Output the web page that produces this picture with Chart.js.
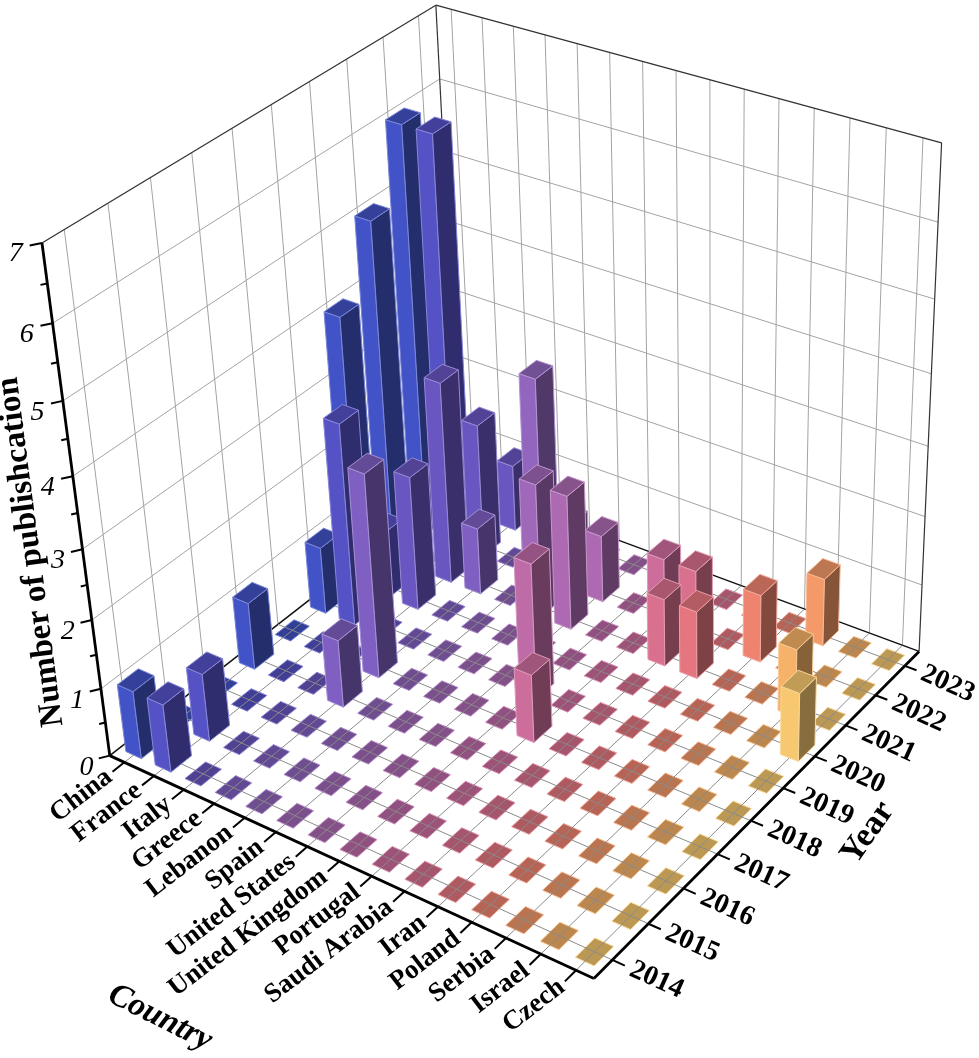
<!DOCTYPE html>
<html>
<head>
<meta charset="utf-8">
<script src="https://cdn.jsdelivr.net/npm/chart.js@4.4.0/dist/chart.umd.min.js"></script>
<style>
html,body{margin:0;padding:0;background:#ffffff;}
#wrap{width:979px;height:1058px;}
canvas{display:block;}
</style>
</head>
<body>
<div id="wrap"><canvas id="c" width="979" height="1058"></canvas></div>
<script>
// ---------------- data ----------------
const countries = ['China','France','Italy','Greece','Lebanon','Spain','United States','United Kingdom','Portugal','Saudi Arabia','Iran','Poland','Serbia','Israel','Czech'];
const years = ['2014','2015','2016','2017','2018','2019','2020','2021','2022','2023'];
const zTickLabels = ['0','1','2','3','4','5','6','7'];

// publications per year, 2014 .. 2023
const china         = [1,0,0,1,0,1,4,5,6,0];
const france        = [1,1,0,0,0,3,1,0,6,0];
const italy         = [0,0,0,0,0,0,2,3,2,1];
const greece        = [0,0,0,1,3,0,0,1,0,0];
const lebanon       = [0,0,0,0,0,0,0,0,3,0];
const spain         = [0,0,0,0,0,0,0,2,1,0];
const unitedStates  = [0,0,0,0,0,0,0,2,1,0];
const unitedKingdom = [0,0,0,0,0,2,0,0,0,0];
const portugal      = [0,0,0,0,1,0,0,0,1,0];
const saudiArabia   = [0,0,0,0,0,0,0,1,1,0];
const iran          = [0,0,0,0,0,0,0,1,0,0];
const poland        = [0,0,0,0,0,0,0,0,1,0];
const serbia        = [0,0,0,0,0,0,0,0,0,1];
const israel        = [0,0,0,0,0,0,0,1,0,0];
const czech         = [0,0,0,0,0,0,1,0,0,0];

// ---------------- styles ----------------
const countryColors = ['#4153c6','#5552c6','#6a56c0','#7f60c2','#9266be','#a068b8','#ad6ab2','#bf6ba8',
                       '#cd6d9c','#d9708e','#e5767f','#ee8470','#f39a68','#f6b268','#f7c870'];

const values = [china,france,italy,greece,lebanon,spain,unitedStates,unitedKingdom,portugal,saudiArabia,iran,poland,serbia,israel,czech];

// camera calibration of the 3D frame (box corners / axis ticks -> picture plane)
const frameCalib = [
  [[-0.5,-0.5,0],[110,757]],[[-0.5,-0.5,2],[95,623]],[[-0.5,-0.5,4],[72,477]],[[-0.5,-0.5,6],[52,322]],[[-0.5,-0.5,7],[42,242]],
  [[14.5,-0.5,0],[593,978]],[[14.5,9.5,0],[918,653]],[[14.5,9.5,4],[930,375]],[[14.5,9.5,7],[941,143]],
  [[-0.5,9.5,7],[436,4]],[[-0.5,9.5,5],[445,152]],
  [[0,0,0],[143,746]],[[2,0,0],[203,772]],[[14,0,0],[595,953]],[[14,9,0],[893,658]],[[3,5,0],[415,638]],[[3,8,0],[510,557]],[[14,6,0],[797,748]]
];
const BAR = 0.53;

function solveLinear(A,b){
  const n=b.length; const M=A.map((r,i)=>[...r,b[i]]);
  for(let c=0;c<n;c++){
    let p=c; for(let r=c+1;r<n;r++) if(Math.abs(M[r][c])>Math.abs(M[p][c])) p=r;
    const t=M[c]; M[c]=M[p]; M[p]=t;
    for(let r=0;r<n;r++){ if(r===c) continue; const f=M[r][c]/M[c][c]; for(let k=c;k<=n;k++) M[r][k]-=f*M[c][k]; }
  }
  return M.map((r,i)=>r[n]/r[i]);
}
function fitCamera(pts){
  const N=Array.from({length:11},()=>Array(11).fill(0)); const B=Array(11).fill(0);
  for(const [[X,Y,Z],[u,v]] of pts){
    const r1=[X,Y,Z,1,0,0,0,0,-u*X,-u*Y,-u*Z], r2=[0,0,0,0,X,Y,Z,1,-v*X,-v*Y,-v*Z];
    for(const [r,t] of [[r1,u],[r2,v]]){ for(let i=0;i<11;i++){ B[i]+=r[i]*t; for(let j=0;j<11;j++) N[i][j]+=r[i]*r[j]; } }
  }
  return solveLinear(N,B);
}
const Pm = fitCamera(frameCalib);
function project(X,Y,Z){
  const w=Pm[8]*X+Pm[9]*Y+Pm[10]*Z+1;
  return [(Pm[0]*X+Pm[1]*Y+Pm[2]*Z+Pm[3])/w,(Pm[4]*X+Pm[5]*Y+Pm[6]*Z+Pm[7])/w];
}
const camC = solveLinear([[Pm[0],Pm[1],Pm[2]],[Pm[4],Pm[5],Pm[6]],[Pm[8],Pm[9],Pm[10]]],[-Pm[3],-Pm[7],-1]);

function hexRgb(h){ return [parseInt(h.slice(1,3),16),parseInt(h.slice(3,5),16),parseInt(h.slice(5,7),16)]; }
function shade(h,f){ const c=hexRgb(h).map(v=>Math.round(v*f)); return `rgb(${c[0]},${c[1]},${c[2]})`; }
function tint(h,f){ const c=hexRgb(h).map(v=>Math.round(v+(255-v)*f)); return `rgb(${c[0]},${c[1]},${c[2]})`; }

const serif = '"Liberation Serif","Times New Roman",serif';

const bar3d = {
  id:'bar3d',
  afterDraw(chart){
    const ctx=chart.ctx, sx=chart.scales.x, sy=chart.scales.y;
    const P=(X,Y,Z)=>{ const [u,v]=project(X,Y,Z); return [sx.getPixelForValue(u), sy.getPixelForValue(v)]; };
    const line=(a,b,col,w)=>{ ctx.beginPath(); ctx.moveTo(a[0],a[1]); ctx.lineTo(b[0],b[1]); ctx.strokeStyle=col; ctx.lineWidth=w; ctx.stroke(); };
    const poly=(pts,fill,stroke)=>{ ctx.beginPath(); pts.forEach((p,i)=>i?ctx.lineTo(p[0],p[1]):ctx.moveTo(p[0],p[1])); ctx.closePath(); if(fill){ctx.fillStyle=fill;ctx.fill();} if(stroke){ctx.strokeStyle=stroke;ctx.lineWidth=1;ctx.stroke();} };
    const area=pts=>{ let s=0; for(let i=0;i<pts.length;i++){ const a=pts[i],b=pts[(i+1)%pts.length]; s+=a[0]*b[1]-b[0]*a[1]; } return s; };
    const nC=countries.length, nY=years.length, zMax=zTickLabels.length-1;
    const x0=-0.5, x1=nC-0.5, y0=-0.5, y1=nY-0.5;
    ctx.save();
    ctx.lineCap='butt';
    // wall grids
    const wallGrid='#a3a3a3';
    for(let k=1;k<zMax;k++){ line(P(x0,y0,k),P(x0,y1,k),wallGrid,1); line(P(x0,y1,k),P(x1,y1,k),wallGrid,1); }
    for(let j=0;j<nY;j++) line(P(x0,j,0),P(x0,j,zMax),wallGrid,1);
    for(let i=0;i<nC;i++) line(P(i,y1,0),P(i,y1,zMax),wallGrid,1);
    // frame
    line(P(x0,y0,zMax),P(x0,y1,zMax),'#333',1.3);
    line(P(x0,y1,zMax),P(x1,y1,zMax),'#333',1.3);
    line(P(x0,y1,0),P(x0,y1,zMax),'#333',1.2);
    line(P(x1,y1,0),P(x1,y1,zMax),'#333',1.2);
    line(P(x0,y0,0),P(x0,y1,0),'#111',1.5);
    line(P(x0,y1,0),P(x1,y1,0),'#111',1.5);
    // cells
    const cells=[];
    for(let i=0;i<nC;i++) for(let j=0;j<nY;j++) cells.push({i,j,v:values[i][j],d:(i-camC[0])**2+(j-camC[1])**2});
    const h=BAR/2;
    // zero cells (flat squares)
    cells.filter(c=>c.v===0).forEach(c=>{
      const col=countryColors[c.i];
      poly([P(c.i-h,c.j-h,0),P(c.i+h,c.j-h,0),P(c.i+h,c.j+h,0),P(c.i-h,c.j+h,0)],shade(col,0.76),tint(col,0.25));
    });
    // floor grid
    const floorGrid='#8a8a8a';
    for(let i=0;i<nC;i++) line(P(i,y0,0),P(i,y1,0),floorGrid,1);
    for(let j=0;j<nY;j++) line(P(x0,j,0),P(x1,j,0),floorGrid,1);
    // bars, far to near
    cells.filter(c=>c.v>0).sort((a,b)=>b.d-a.d).forEach(c=>{
      const col=countryColors[c.i], X0=c.i-h, X1=c.i+h, Y0=c.j-h, Y1=c.j+h, Z=c.v;
      const top=[P(X0,Y0,Z),P(X1,Y0,Z),P(X1,Y1,Z),P(X0,Y1,Z)];
      const faces=[
        {pts:[P(X0,Y0,0),P(X1,Y0,0),P(X1,Y0,Z),P(X0,Y0,Z)],fill:col},            // -year (front-left)
        {pts:[P(X1,Y0,0),P(X1,Y1,0),P(X1,Y1,Z),P(X1,Y0,Z)],fill:shade(col,0.55)}, // +country (right)
        {pts:[P(X0,Y1,0),P(X0,Y1,Z),P(X1,Y1,Z),P(X1,Y1,0)],fill:shade(col,0.7)},
        {pts:[P(X0,Y0,0),P(X0,Y0,Z),P(X0,Y1,Z),P(X0,Y1,0)],fill:shade(col,0.85)}
      ];
      const sTop=Math.sign(area(top));
      const edge=tint(col,0.3);
      faces.forEach(f=>{ if(Math.sign(area(f.pts))===sTop) poly(f.pts,f.fill,edge); });
      poly(top,shade(col,0.78),edge);
    });
    // axes
    const axisCol='#000';
    line(P(x0,y0,0),P(x0,y0,zMax),axisCol,2.8);
    line(P(x0,y0,0),P(x1,y0,0),axisCol,2.8);
    line(P(x1,y0,0),P(x1,y1,0),axisCol,2.8);
    // z ticks + labels
    ctx.fillStyle='#000';
    for(let k=0;k<=zMax*2;k++){
      const z=k/2, L=(k%2===0)?0.16:0.09;
      line(P(x0,y0,z),P(x0-L,y0-L,z),axisCol,2);
    }
    ctx.font=`italic 28px ${serif}`; ctx.textAlign='center'; ctx.textBaseline='middle';
    zTickLabels.forEach((t,k)=>{ const p=P(x0-0.16,y0-0.47,k); ctx.fillText(t,p[0],p[1]); });
    // country ticks + labels
    countries.forEach((name,i)=>{
      line(P(i,y0,0),P(i,y0-0.3,0),axisCol,2);
      const p=P(i,y0-0.38,0);
      ctx.save(); ctx.translate(p[0],p[1]); ctx.rotate(-37.5*Math.PI/180);
      ctx.font=`bold 27px ${serif}`; ctx.textAlign='right'; ctx.textBaseline='middle'; ctx.fillText(name,0,0); ctx.restore();
    });
    // year ticks + labels
    years.forEach((yr,j)=>{
      line(P(x1,j,0),P(x1+0.35,j,0),axisCol,2);
      const p=P(x1+0.52,j,0);
      ctx.save(); ctx.translate(p[0],p[1]); ctx.rotate(24.4*Math.PI/180);
      ctx.font=`bold 28px ${serif}`; ctx.textAlign='left'; ctx.textBaseline='middle'; ctx.fillText(yr,0,0); ctx.restore();
    });
    // titles
    const title=(s,x,y,a,font)=>{ ctx.save(); ctx.translate(x,y); ctx.rotate(a*Math.PI/180); ctx.font=font; ctx.textAlign='center'; ctx.textBaseline='middle'; ctx.fillText(s,0,0); ctx.restore(); };
    title('Number of publishcation', 31, 552, -97.5, `bold 33px ${serif}`);
    title('Country', 160, 1018, 26.6, `bold italic 33px ${serif}`);
    title('Year', 868, 833, -55, `bold 34px ${serif}`);
    ctx.restore();
  }
};

new Chart(document.getElementById('c'),{
  type:'scatter',
  data:{datasets:[{data:[],pointRadius:0}]},
  options:{
    responsive:false, animation:false, devicePixelRatio:1,
    layout:{padding:0},
    plugins:{legend:{display:false},tooltip:{enabled:false},title:{display:false}},
    scales:{
      x:{type:'linear',min:0,max:979,display:false},
      y:{type:'linear',min:0,max:1058,reverse:true,display:false}
    }
  },
  plugins:[bar3d]
});
</script>
</body>
</html>
